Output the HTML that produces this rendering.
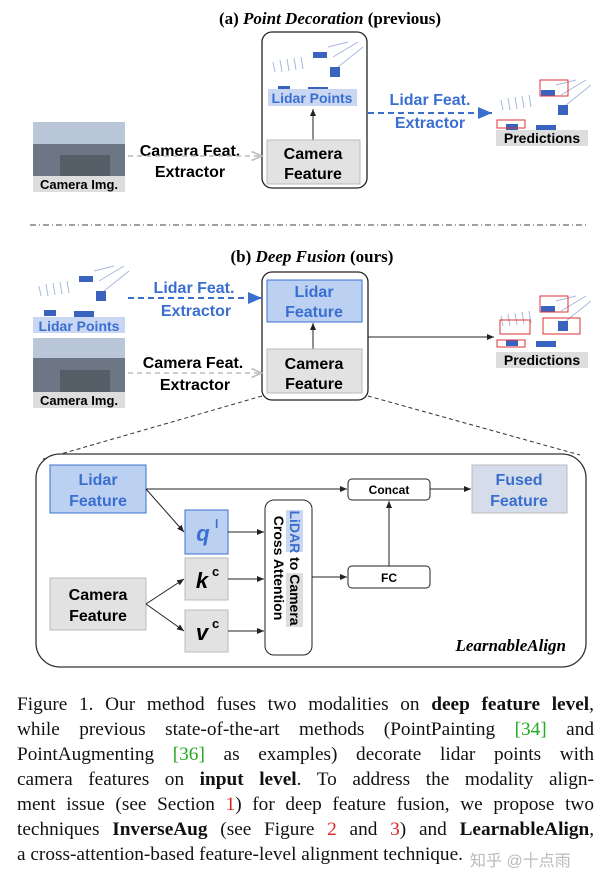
<!DOCTYPE html>
<html><head><meta charset="utf-8"><style>
body{margin:0;background:#fff;width:610px;height:887px;overflow:hidden;position:relative}
svg{position:absolute;left:0;top:0}
.s{font-family:"Liberation Sans",sans-serif;font-weight:bold}
.cap{position:absolute;left:17px;width:577px;font-family:"Liberation Serif",serif;font-size:19.3px;line-height:25px;text-align:justify;text-align-last:justify;white-space:nowrap;color:#111}
.g{color:#2a2}.r{color:#d22}
</style></head><body>
<svg width="610" height="887" viewBox="0 0 610 887">
<defs>
<marker id="a" markerWidth="8" markerHeight="8" refX="7" refY="4" orient="auto"><path d="M0,1 L7,4 L0,7Z" fill="#222"/></marker>
<marker id="ab" markerWidth="8" markerHeight="8" refX="7" refY="4" orient="auto"><path d="M0,1 L7,4 L0,7Z" fill="#3a6fd0"/></marker>
<marker id="ag" markerWidth="8" markerHeight="8" refX="7" refY="4" orient="auto"><path d="M0,1 L7,4 L0,7" fill="none" stroke="#bbb"/></marker>
<g id="pc"><g stroke="#a9b8dd" stroke-width="1"><path d="M5,20 l2,10 M12,18 l2,12 M19,17 l2,12 M26,16 l2,12 M33,15 l2,12 M60,5 l20,-5 M65,15 l25,-15 M70,25 l25,-20"/></g><g fill="#3a63c0"><rect x="45" y="10" width="14" height="6"/><rect x="62" y="25" width="10" height="10"/><rect x="40" y="45" width="20" height="6"/><rect x="10" y="44" width="12" height="6"/></g></g>
</defs>
<text x="330" y="24" text-anchor="middle" font-family="Liberation Serif,serif" font-weight="bold" font-size="17">(a) <tspan font-style="italic">Point Decoration</tspan> (previous)</text>
<rect x="262" y="32" width="105" height="156" rx="10" fill="none" stroke="#222" stroke-width="1.3"/>
<use href="#pc" x="268" y="42"/>
<rect x="268" y="89" width="89" height="17" fill="#c9d7f3"/>
<text x="312" y="103" text-anchor="middle" class="s" font-size="14" fill="#3a6fd0">Lidar Points</text>
<line x1="313" y1="140" x2="313" y2="109" stroke="#222" marker-end="url(#a)"/>
<rect x="267" y="140" width="93" height="44" fill="#e2e2e2" stroke="#bbb"/>
<text x="313" y="159" text-anchor="middle" class="s" font-size="16">Camera</text>
<text x="313" y="179" text-anchor="middle" class="s" font-size="16">Feature</text>
<rect x="33" y="122" width="92" height="56" fill="#6c7684"/><rect x="33" y="122" width="92" height="22" fill="#b9c7d8"/><rect x="60" y="155" width="50" height="23" fill="#555d66"/>
<rect x="33" y="176" width="92" height="16" fill="#ddd"/>
<text x="79" y="189" text-anchor="middle" class="s" font-size="13">Camera Img.</text>
<text x="190" y="156" text-anchor="middle" class="s" font-size="16">Camera Feat.</text>
<text x="190" y="177" text-anchor="middle" class="s" font-size="16">Extractor</text>
<line x1="128" y1="156" x2="262" y2="156" stroke="#bbb" stroke-width="1.5" stroke-dasharray="5,4" marker-end="url(#ag)"/>
<text x="430" y="105" text-anchor="middle" class="s" font-size="16" fill="#3a6fd0">Lidar Feat.</text>
<text x="430" y="128" text-anchor="middle" class="s" font-size="16" fill="#3a6fd0">Extractor</text>
<line x1="368" y1="113" x2="492" y2="113" stroke="#3a6fd0" stroke-width="2" stroke-dasharray="6,4" marker-end="url(#ab)"/>
<use href="#pc" x="496" y="80"/>
<rect x="540" y="80" width="28" height="16" fill="none" stroke="#d33"/><rect x="497" y="120" width="28" height="8" fill="none" stroke="#d33"/>
<rect x="496" y="130" width="92" height="16" fill="#ddd"/>
<text x="542" y="143" text-anchor="middle" class="s" font-size="14">Predictions</text>
<line x1="30" y1="225" x2="588" y2="225" stroke="#444" stroke-dasharray="6,3,1,3"/>
<text x="312" y="262" text-anchor="middle" font-family="Liberation Serif,serif" font-weight="bold" font-size="17">(b) <tspan font-style="italic">Deep Fusion</tspan> (ours)</text>
<rect x="262" y="272" width="106" height="128" rx="10" fill="none" stroke="#222" stroke-width="1.3"/>
<rect x="267" y="280" width="95" height="42" fill="#bcd0f2" stroke="#3a6fd0"/>
<text x="314" y="297" text-anchor="middle" class="s" font-size="16" fill="#3a6fd0">Lidar</text>
<text x="314" y="317" text-anchor="middle" class="s" font-size="16" fill="#3a6fd0">Feature</text>
<line x1="313" y1="349" x2="313" y2="323" stroke="#222" marker-end="url(#a)"/>
<rect x="267" y="349" width="95" height="44" fill="#e2e2e2" stroke="#bbb"/>
<text x="314" y="369" text-anchor="middle" class="s" font-size="16">Camera</text>
<text x="314" y="389" text-anchor="middle" class="s" font-size="16">Feature</text>
<use href="#pc" x="34" y="266"/>
<rect x="33" y="317" width="92" height="16" fill="#c9d7f3"/>
<text x="79" y="331" text-anchor="middle" class="s" font-size="14" fill="#3a6fd0">Lidar Points</text>
<rect x="33" y="338" width="92" height="54" fill="#6c7684"/><rect x="33" y="338" width="92" height="20" fill="#b9c7d8"/><rect x="60" y="370" width="50" height="22" fill="#555d66"/>
<rect x="33" y="392" width="92" height="16" fill="#ddd"/>
<text x="79" y="405" text-anchor="middle" class="s" font-size="13">Camera Img.</text>
<text x="194" y="293" text-anchor="middle" class="s" font-size="16" fill="#3a6fd0">Lidar Feat.</text>
<text x="196" y="316" text-anchor="middle" class="s" font-size="16" fill="#3a6fd0">Extractor</text>
<line x1="128" y1="298" x2="262" y2="298" stroke="#3a6fd0" stroke-width="2" stroke-dasharray="6,4" marker-end="url(#ab)"/>
<text x="193" y="368" text-anchor="middle" class="s" font-size="16">Camera Feat.</text>
<text x="195" y="390" text-anchor="middle" class="s" font-size="16">Extractor</text>
<line x1="128" y1="373" x2="262" y2="373" stroke="#bbb" stroke-width="1.5" stroke-dasharray="5,4" marker-end="url(#ag)"/>
<line x1="368" y1="337" x2="494" y2="337" stroke="#222" marker-end="url(#a)"/>
<use href="#pc" x="496" y="296"/>
<rect x="540" y="296" width="28" height="16" fill="none" stroke="#d33"/><rect x="500" y="320" width="30" height="14" fill="none" stroke="#d33"/><rect x="543" y="318" width="37" height="16" fill="none" stroke="#d33"/><rect x="497" y="340" width="28" height="7" fill="none" stroke="#d33"/>
<rect x="496" y="352" width="92" height="16" fill="#ddd"/>
<text x="542" y="365" text-anchor="middle" class="s" font-size="14">Predictions</text>
<line x1="262" y1="396" x2="40" y2="460" stroke="#333" stroke-dasharray="4,3"/>
<line x1="368" y1="396" x2="580" y2="455" stroke="#333" stroke-dasharray="4,3"/>
<rect x="36" y="454" width="550" height="213" rx="24" fill="#fff" stroke="#333" stroke-width="1.3"/>
<rect x="50" y="465" width="96" height="48" fill="#bcd0f2" stroke="#3a6fd0"/>
<text x="98" y="485" text-anchor="middle" class="s" font-size="16" fill="#3a6fd0">Lidar</text>
<text x="98" y="506" text-anchor="middle" class="s" font-size="16" fill="#3a6fd0">Feature</text>
<rect x="50" y="578" width="96" height="52" fill="#e2e2e2" stroke="#bbb"/>
<text x="98" y="600" text-anchor="middle" class="s" font-size="16">Camera</text>
<text x="98" y="621" text-anchor="middle" class="s" font-size="16">Feature</text>
<rect x="185" y="510" width="43" height="44" fill="#bcd0f2" stroke="#3a6fd0"/>
<text x="203" y="541" text-anchor="middle" class="s" font-size="22" font-style="italic" fill="#3a6fd0">q</text><text x="215" y="528" class="s" font-size="12" fill="#3a6fd0">l</text>
<rect x="185" y="558" width="43" height="42" fill="#e2e2e2" stroke="#bbb"/>
<text x="202" y="588" text-anchor="middle" class="s" font-size="22" font-style="italic">k</text><text x="212" y="576" class="s" font-size="13">c</text>
<rect x="185" y="610" width="43" height="42" fill="#e2e2e2" stroke="#bbb"/>
<text x="202" y="640" text-anchor="middle" class="s" font-size="22" font-style="italic">v</text><text x="212" y="628" class="s" font-size="13">c</text>
<rect x="265" y="500" width="47" height="155" rx="9" fill="#fff" stroke="#222"/>
<g transform="translate(288,568) rotate(90)" class="s" font-size="14">
<rect x="-58" y="-15" width="42" height="17" fill="#c9d7f3"/><rect x="5" y="-15" width="54" height="17" fill="#ddd"/>
<text x="0" y="-2" text-anchor="middle"><tspan fill="#3a6fd0">LiDAR</tspan> to Camera</text>
<text x="0" y="14" text-anchor="middle">Cross Attention</text></g>
<rect x="348" y="479" width="82" height="21" rx="4" fill="#fff" stroke="#222"/>
<text x="389" y="494" text-anchor="middle" class="s" font-size="12">Concat</text>
<rect x="348" y="566" width="82" height="22" rx="4" fill="#fff" stroke="#222"/>
<text x="389" y="582" text-anchor="middle" class="s" font-size="12">FC</text>
<rect x="472" y="465" width="95" height="48" fill="#d5dcea" stroke="#bbb"/>
<text x="519" y="485" text-anchor="middle" class="s" font-size="16" fill="#3a6fd0">Fused</text>
<text x="519" y="506" text-anchor="middle" class="s" font-size="16" fill="#3a6fd0">Feature</text>
<g stroke="#222" fill="none">
<line x1="146" y1="489" x2="347" y2="489" marker-end="url(#a)"/>
<line x1="430" y1="489" x2="471" y2="489" marker-end="url(#a)"/>
<line x1="146" y1="489" x2="184" y2="532" marker-end="url(#a)"/>
<line x1="146" y1="604" x2="184" y2="579" marker-end="url(#a)"/>
<line x1="146" y1="604" x2="184" y2="631" marker-end="url(#a)"/>
<line x1="228" y1="532" x2="264" y2="532" marker-end="url(#a)"/>
<line x1="228" y1="579" x2="264" y2="579" marker-end="url(#a)"/>
<line x1="228" y1="631" x2="264" y2="631" marker-end="url(#a)"/>
<line x1="312" y1="577" x2="347" y2="577" marker-end="url(#a)"/>
<line x1="389" y1="566" x2="389" y2="501" marker-end="url(#a)"/>
</g>
<text x="566" y="651" text-anchor="end" font-family="Liberation Serif,serif" font-weight="bold" font-style="italic" font-size="17">LearnableAlign</text>
</svg>
<div class="cap" style="top:692px">Figure 1. Our method fuses two modalities on <b>deep feature level</b>,</div>
<div class="cap" style="top:717px">while previous state-of-the-art methods (PointPainting <span class="g">[34]</span> and</div>
<div class="cap" style="top:742px">PointAugmenting <span class="g">[36]</span> as examples) decorate lidar points with</div>
<div class="cap" style="top:767px">camera features on <b>input level</b>. To address the modality align-</div>
<div class="cap" style="top:792px">ment issue (see Section <span class="r">1</span>) for deep feature fusion, we propose two</div>
<div class="cap" style="top:817px">techniques <b>InverseAug</b> (see Figure <span class="r">2</span> and <span class="r">3</span>) and <b>LearnableAlign</b>,</div>
<div class="cap" style="top:842px;text-align-last:left">a cross-attention-based feature-level alignment technique.</div>
<div style="position:absolute;left:470px;top:847px;font-family:'Liberation Sans','Noto Sans CJK SC',sans-serif;font-size:16px;color:#bbb">知乎 @十点雨</div>
</body></html>
